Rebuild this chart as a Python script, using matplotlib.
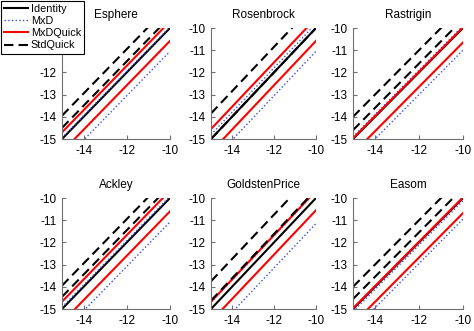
import numpy as np
import matplotlib
matplotlib.use('Agg')
import matplotlib.pyplot as plt

plt.rcParams['font.family'] = ['Liberation Sans', 'DejaVu Sans']
plt.rcParams['axes.unicode_minus'] = False

# panel titles
titles = ['Esphere', 'Rosenbrock', 'Rastrigin', 'Ackley', 'GoldstenPrice', 'Easom']

# x extent of every line
x_ends = [-15, -10]

# offsets from the identity line (lower / upper line of each method)
mxd_lo = [-1.05, -1.05, -1.0, -1.08, -1.15, -0.95]
mxd_hi = [0.05, 0.2, 0.1, 0.08, 0.3, -0.12]
mxdq_lo = [-0.58, -0.58, -0.65, -0.6, -0.55, -0.68]
mxdq_hi = [0.3, 0.45, 0.03, 0.33, 0.33, 0.03]
std_lo = [0.5, 0.0, 0.4, 0.55, 0.38, 0.45]
std_hi = [1.05, 1.15, 1.0, 1.05, 1.25, 1.0]

blue = '#3a4fe0'
axis_grey = '#707070'

fig = plt.figure(figsize=(4.74, 3.31), dpi=100)

lefts = [62, 211, 353]
widths = [108, 105, 110]
tops = [28, 198]
H = 111

x = np.array(x_ends, dtype=float)
handles = None
for k, title in enumerate(titles):
    r, c = divmod(k, 3)
    ax = fig.add_axes([lefts[c] / 474, 1 - (tops[r] + H) / 331, widths[c] / 474, H / 331])

    h1, = ax.plot(x, x, color='black', lw=1.5)
    h2, = ax.plot(x, x + mxd_lo[k], color=blue, lw=1.0, ls=':')
    ax.plot(x, x + mxd_hi[k], color=blue, lw=1.0, ls=':')
    h3, = ax.plot(x, x + mxdq_lo[k], color='red', lw=1.5)
    ax.plot(x, x + mxdq_hi[k], color='red', lw=1.5)
    h4, = ax.plot(x, x + std_lo[k], color='black', lw=1.5, ls=(0, (4.5, 2.5)))
    ax.plot(x, x + std_hi[k], color='black', lw=1.5, ls=(0, (4.5, 2.5)))
    handles = [h1, h2, h3, h4]

    ax.set_xlim(-15, -10)
    ax.set_ylim(-15, -10)
    ax.set_xticks([-14, -12, -10])
    ax.set_yticks([-15, -14, -13, -12, -11, -10])
    ax.set_title(title, fontsize=8.5, pad=7)
    ax.spines['top'].set_visible(False)
    ax.spines['right'].set_visible(False)
    for s in ['left', 'bottom']:
        ax.spines[s].set_color(axis_grey)
        ax.spines[s].set_linewidth(0.8)
    ax.tick_params(direction='in', length=3, width=0.8, color=axis_grey,
                   labelsize=8.5, pad=4)

leg = fig.legend(handles, ['Identity', 'MxD', 'MxDQuick', 'StdQuick'],
                 loc='upper left', bbox_to_anchor=(0.0, 1.0), fontsize=7.8,
                 frameon=True, fancybox=False, edgecolor='black', framealpha=1,
                 handlelength=2.2, handletextpad=0.3, borderpad=0.3,
                 labelspacing=0.2, borderaxespad=0.05)
leg.get_frame().set_linewidth(0.8)
leg.set_zorder(10)

fig.savefig('out.png', dpi=100)
